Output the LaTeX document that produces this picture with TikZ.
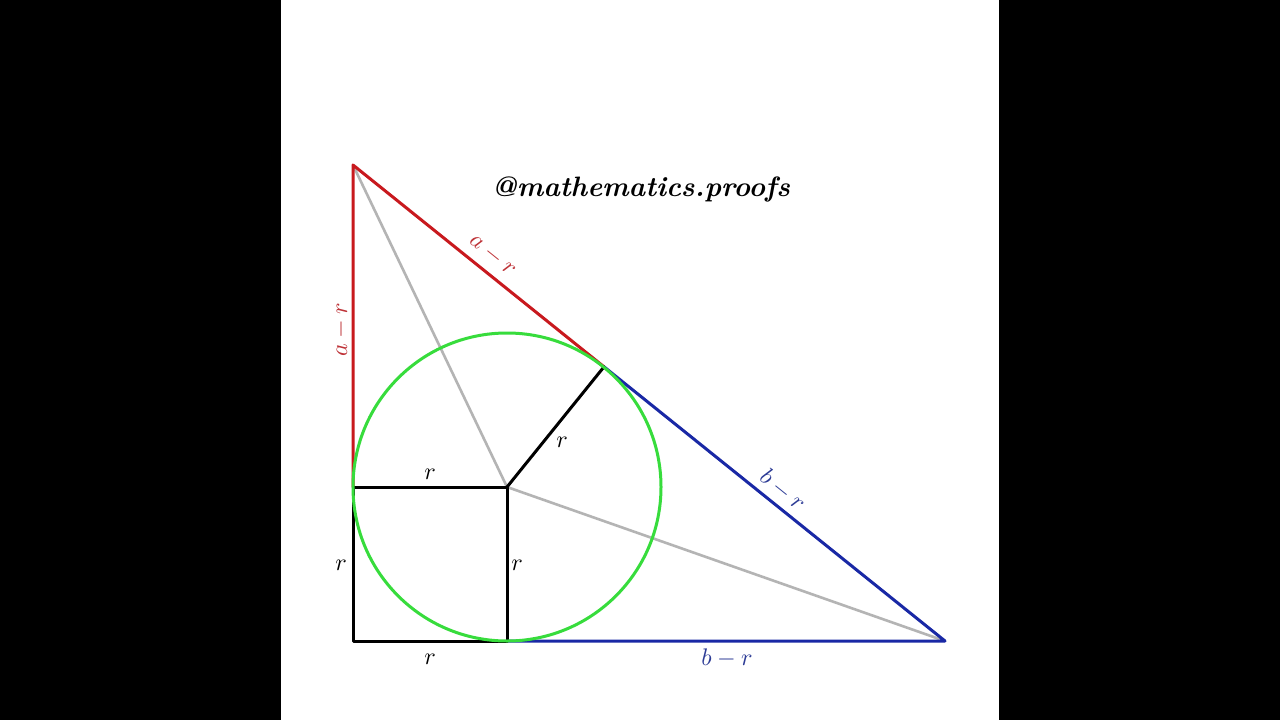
\documentclass[tikz,border=0pt]{standalone}
\usepackage{graphicx}
\begin{document}
\begin{tikzpicture}[x=1pt,y=-1pt,
  edge/.style={line width=3pt, line cap=round, line join=round},
  redline/.style={edge, draw=myred},
  blueline/.style={edge, draw=myblue},
  blackline/.style={edge, draw=black},
  grayline/.style={line width=2.6pt, draw=mygray},
  circ/.style={line width=3pt, draw=mygreen},
  lab/.style={scale=2.4, inner sep=0pt},
  redlab/.style={lab, text=myredl},
  bluelab/.style={lab, text=mybluel},
  blacklab/.style={lab, text=black}]
\definecolor{myred}{RGB}{200,25,30}
\definecolor{myredl}{RGB}{190,50,55}
\definecolor{myblue}{RGB}{25,40,165}
\definecolor{mybluel}{RGB}{45,60,150}
\definecolor{mygreen}{RGB}{55,220,60}
\definecolor{mygray}{RGB}{180,180,180}
\useasboundingbox (0,0) rectangle (1280,720);
\fill[white] (0,0) rectangle (1280,720);
\fill[black] (0,0) rectangle (281,720);
\fill[black] (999,0) rectangle (1280,720);
% points
\coordinate (C) at (353,641);
\coordinate (A) at (353,165);
\coordinate (B) at (945,641);
\coordinate (I) at (507,487);
\coordinate (L) at (353,487);
\coordinate (D) at (507,641);
\coordinate (T) at (604,366.8);
% gray lines
\draw[grayline] (A) -- (I);
\draw[grayline] (B) -- (I);
% triangle
\draw[redline] (L) -- (A) -- (T);
\draw[blueline] (T) -- (B) -- (D);
% square and radius
\draw[blackline] (C) -- (L) -- (I) -- (D) -- cycle;
\draw[blackline] (I) -- (T);
% incircle
\draw[circ] (I) circle (154);
% labels
\node[redlab, rotate=90] (la1) at (341,330) {$a-r$};
\node[redlab, rotate=-38.8] (la2) at (493,255) {$a-r$};
\node[bluelab, rotate=-38.8] (lb1) at (783,490) {$b-r$};
\node[bluelab] (lb2) at (727,658) {$b-r$};
\node[blacklab] (r1) at (430,474) {$r$};
\node[blacklab] (r2) at (341,565) {$r$};
\node[blacklab] (r3) at (517,565) {$r$};
\node[blacklab] (r4) at (430,659) {$r$};
\node[blacklab] (r5) at (562,442) {$r$};
\node[inner sep=0pt] (title) at (641,189) {\resizebox{298pt}{!}{\bfseries\itshape @mathematics.proofs}};
\end{tikzpicture}
\end{document}
